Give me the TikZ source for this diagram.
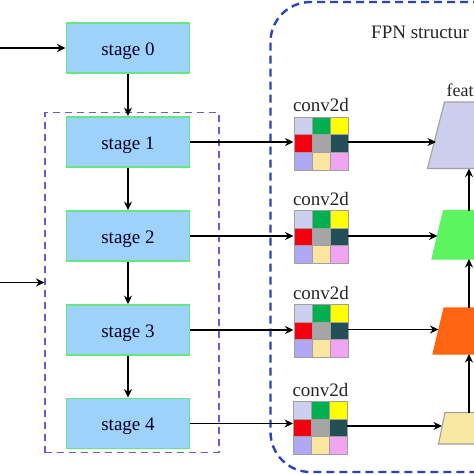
\documentclass[tikz,border=0pt]{standalone}
\usepackage{fontspec}
\setmainfont{Liberation Serif}
\usetikzlibrary{arrows.meta}
\definecolor{stagefill}{HTML}{9FD2FA}
\definecolor{stageline}{HTML}{66E680}
\definecolor{purpledash}{HTML}{6A5ACD}
\definecolor{bluedash}{HTML}{2A44BE}
\definecolor{gridline}{HTML}{A0A0A0}
\definecolor{cA}{HTML}{CCD0EE}\definecolor{cB}{HTML}{00B050}\definecolor{cC}{HTML}{FFFF00}
\definecolor{cD}{HTML}{F50010}\definecolor{cE}{HTML}{A6A6A6}\definecolor{cF}{HTML}{254F57}
\definecolor{cG}{HTML}{B0A8F5}\definecolor{cH}{HTML}{FBE59F}\definecolor{cI}{HTML}{EFA5F0}
\definecolor{tGreen}{HTML}{5CF560}\definecolor{tOrange}{HTML}{FF6410}\definecolor{tYellow}{HTML}{F9E7A4}
\tikzset{
  x=1pt,y=-1pt,
  stagebox/.style={draw=stageline,fill=stagefill,line width=1.9pt,minimum width=123pt,minimum height=50pt,inner sep=0pt,text height=14pt,text depth=0pt,font=\fontsize{19}{20}\selectfont,text=black!85!blue},
  conn/.style={draw=black,line width=1.6pt,-{Stealth[length=8.5pt,width=8pt]}},
  plainlabel/.style={inner sep=0pt,font=\fontsize{19}{20}\selectfont,text=black!85},
  gridcell/.style={draw=gridline,line width=1.1pt,minimum size=18pt,inner sep=0pt},
  trap/.style={draw=gridline,line width=1.1pt},
}
\newcommand{\convgrid}[3]{% name, left x, top y
  \foreach \r/\c/\col in {0/0/cA,0/1/cB,0/2/cC,1/0/cD,1/1/cE,1/2/cF,2/0/cG,2/1/cH,2/2/cI}{
    \node[gridcell,fill=\col,anchor=north west] at ({#2+18*\c},{#3+17.6*\r}) {};
  }
  \coordinate (#1w) at (#2,{#3+26});
  \coordinate (#1e) at ({#2+54},{#3+26});
  \node[plainlabel,anchor=base] (#1t) at ({#2+27.5},{#3-5}) {conv2d};
}
\begin{document}
\begin{tikzpicture}
\useasboundingbox (0,0) rectangle (474,474);
\clip (0,0) rectangle (474,474);
\fill[white] (0,0) rectangle (474,474);

% big dashed region
\draw[bluedash,line width=2.4pt,dash pattern=on 8pt off 5pt,rounded corners=40pt] (520,2) -- (270.5,2) -- (270.5,472) -- (520,472);
\node[plainlabel,anchor=base west] (fpn) at (371,38.5) {FPN structur};

% stages
\node[stagebox] (s0) at (128,48) {stage 0};
\node[stagebox] (s1) at (128,142) {stage 1};
\node[stagebox] (s2) at (128,236) {stage 2};
\node[stagebox] (s3) at (128,330) {stage 3};
\node[stagebox] (s4) at (128,423.5) {stage 4};

% purple dashed group
\node[draw=purpledash,line width=1.6pt,dash pattern=on 7pt off 5pt,minimum width=173.5pt,minimum height=340pt,inner sep=0pt] (grp) at (132,282.5) {};

\coordinate (in0) at (0,48);
\coordinate (in1) at (0,282.5);
\draw[conn] (in0) -- (s0.west);
\draw[conn] (in1) -- (grp.west);
\draw[conn] (s0) -- (s1);
\draw[conn] (s1) -- (s2);
\draw[conn] (s2) -- (s3);
\draw[conn] (s3) -- (s4);

% conv grids
\convgrid{c1}{293.5}{116.5}
\convgrid{c2}{293.5}{210}
\convgrid{c3}{293.5}{304}
\convgrid{c4}{293}{401}

% trapezoids
\draw[trap,fill=cA] (444.5,102) -- (500,102) -- (500,168.5) -- (427.5,168.5) -- cycle;
\draw[trap,draw=tGreen,fill=tGreen] (443.5,210.5) -- (500,210.5) -- (500,259) -- (432,259) -- cycle;
\draw[trap,fill=tOrange,draw=tOrange] (444,308) -- (500,308) -- (500,354) -- (433,354) -- cycle;
\draw[trap,fill=tYellow] (445,412.5) -- (500,412.5) -- (500,444) -- (438.5,444) -- cycle;
\node[plainlabel,anchor=base west,font=\fontsize{18}{20}\selectfont] (feat) at (446.5,96) {feat};

\coordinate (t1w) at (436,142);
\coordinate (t2w) at (437.5,236);
\coordinate (t3w) at (438.5,329.5);
\coordinate (t4w) at (442,426);
\coordinate (t1b) at (469,168.5);
\coordinate (t2t) at (469,210.5);
\coordinate (t2b) at (469,259);
\coordinate (t3t) at (469,308);
\coordinate (t3b) at (469,354);
\coordinate (t4t) at (469,412.5);

\draw[conn] (s1.east) -- (c1w|-s1.east);
\draw[conn] (s2.east) -- (c2w|-s2.east);
\draw[conn] (s3.east) -- (c3w|-s3.east);
\draw[conn] (s4.east) -- (c4w|-s4.east);
\draw[conn] (c1e|-t1w) -- (t1w);
\draw[conn] (c2e|-t2w) -- (t2w);
\draw[conn] (c3e|-t3w) -- (t3w);
\draw[conn] (c4e|-t4w) -- (t4w);
\draw[conn] (t2t) -- (t1b);
\draw[conn] (t3t) -- (t2b);
\draw[conn] (t4t) -- (t3b);
\end{tikzpicture}
\end{document}
